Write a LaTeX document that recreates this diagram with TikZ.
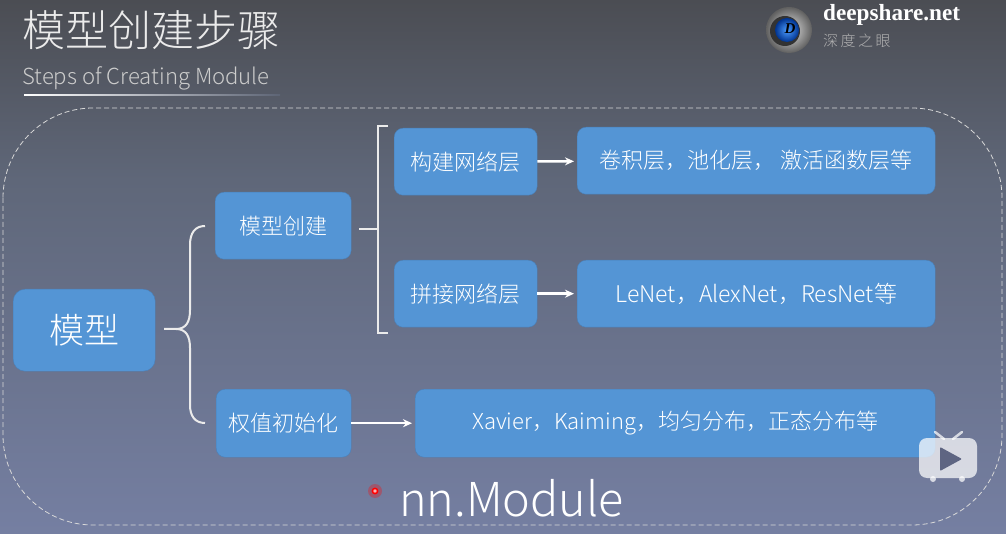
\documentclass[tikz,border=0pt]{standalone}
\usepackage{fontspec}
\setmainfont{Noto Sans CJK SC Light}
\newfontfamily\logofont{Liberation Serif}
\usetikzlibrary{arrows.meta}
\definecolor{bgtop}{HTML}{4B4D53}
\definecolor{bgmid}{HTML}{5F6779}
\definecolor{bgbot}{HTML}{757FA2}
\definecolor{boxblue}{HTML}{5495D5}
\definecolor{boxedge}{HTML}{4A80B8}
\tikzset{
    stepbox/.style={draw=boxedge, fill=boxblue, rounded corners=9pt, text=white, font=\fontsize{22}{24}\selectfont, inner sep=0pt, anchor=north west},
    link/.style={draw=white, line width=2.5pt, -{Stealth[length=9pt,width=8pt]}, shorten <=0pt, shorten >=3pt},
    brace/.style={draw=white!92!black, line width=2pt}
}
\begin{document}
\begin{tikzpicture}[x=1pt, y=-1pt]
    \useasboundingbox (0,0) rectangle (1006,534);
    \shade[top color=bgtop, bottom color=bgmid] (0,0) rectangle (1006,180);
    \shade[top color=bgmid, bottom color=bgbot] (0,180) rectangle (1006,534);
    % title
    \node[anchor=west, text=white!92!black, font=\fontsize{43}{45}\selectfont, inner sep=0pt] (title) at (22,30) {模型创建步骤};
    \node[anchor=west, text=white!80!black, font=\fontsize{22.1}{24}\selectfont, inner sep=0pt] (subtitle) at (22,78) {Steps of Creating Module};
    \shade[left color=white, right color=bgmid!90!bgtop] (24,94.2) rectangle (280,95.8);
    % logo
    \shade[inner color=gray!20, outer color=gray!75!black] (789,30) circle (23);
    \fill[black!80] (785,31) circle (15);
    \shade[inner color=cyan!45!blue!70!white, outer color=blue!45!black!80!cyan] (787,30) circle (12);
    \node[text=black, font=\logofont\bfseries\itshape\fontsize{15}{15}\selectfont, inner sep=0pt] (logod) at (790,29) {D};
    \node[anchor=west, text=white, font=\logofont\bfseries\fontsize{23.2}{24}\selectfont, inner sep=0pt] (site) at (823,15) {deepshare.net};
    \node[anchor=west, text=white!70!black, font=\fontsize{15}{16}\selectfont, inner sep=0pt] (brand) at (823,41) {深\,度\,之\,眼};
    % outer frame
    \draw[white!85!black, dash pattern=on 5pt off 3pt, line width=0.8pt, rounded corners=90pt] (3,108) rectangle (1002,525);
    % boxes
    \node[stepbox, minimum width=142pt, minimum height=82pt, rounded corners=12pt, font=\fontsize{35}{37}\selectfont] (model) at (13,289) {模型};
    \node[stepbox, minimum width=136pt, minimum height=67pt] (create) at (215,192) {模型创建};
    \node[stepbox, minimum width=143pt, minimum height=67pt] (build) at (394,128) {构建网络层};
    \node[stepbox, minimum width=143pt, minimum height=67pt] (concat) at (394,260) {拼接网络层};
    \node[stepbox, minimum width=358pt, minimum height=67pt] (layers) at (577,127) {卷积层，池化层， 激活函数层等};
    \node[stepbox, minimum width=358pt, minimum height=67pt, font=\fontsize{23}{24}\selectfont] (nets) at (577,260) {LeNet，AlexNet，ResNet等};
    \node[stepbox, minimum width=135pt, minimum height=68pt] (init) at (216,389) {权值初始化};
    \node[stepbox, minimum width=520pt, minimum height=68pt] (dist) at (415,389) {Xavier，Kaiming，均匀分布，正态分布等};
    \draw[link] (build) -- (layers);
    \draw[link] (concat) -- (nets);
    \draw[link] (init) -- (dist);
    % braces
    \coordinate (bracemid) at (164,329);
    \coordinate (braceup) at (205,226);
    \coordinate (bracedown) at (205,423);
    \draw[brace] (bracemid) -- (176,329) .. controls (186,329) and (190,322) .. (190,310) -- (190,245) .. controls (190,233) and (195,226) .. (braceup);
    \draw[brace] (176,329) .. controls (186,329) and (190,336) .. (190,348) -- (190,405) .. controls (190,416) and (195,423) .. (bracedown);
    \coordinate (bracketmid) at (359,229);
    \draw[brace] (bracketmid) -- (378,229);
    \draw[brace] (388,126) -- (378,126) -- (378,333) -- (388,333);
    % bottom label
    \node[anchor=west, text=white, font=\fontsize{46.7}{48}\selectfont, inner sep=0pt] (module) at (399,498) {nn.Module};
    \fill[red!60!bgbot, opacity=0.5] (375,491) circle (7);
    \draw[red, line width=1.5pt, fill=white!70!red] (375,491) circle (2.6);
    % player badge
    \begin{scope}[opacity=0.72]
        \draw[white, line width=2.5pt, line cap=round] (935,432) -- (944,439) (962,432) -- (953,439);
        \fill[white] (933,479) circle (3) (962,479) circle (3);
        \fill[white, rounded corners=8pt] (919,438) rectangle (977,478);
    \end{scope}
    \fill[bgbot!80!black, rounded corners=1pt] (940,447) -- (962,459) -- (940,471) -- cycle;
\end{tikzpicture}
\end{document}
